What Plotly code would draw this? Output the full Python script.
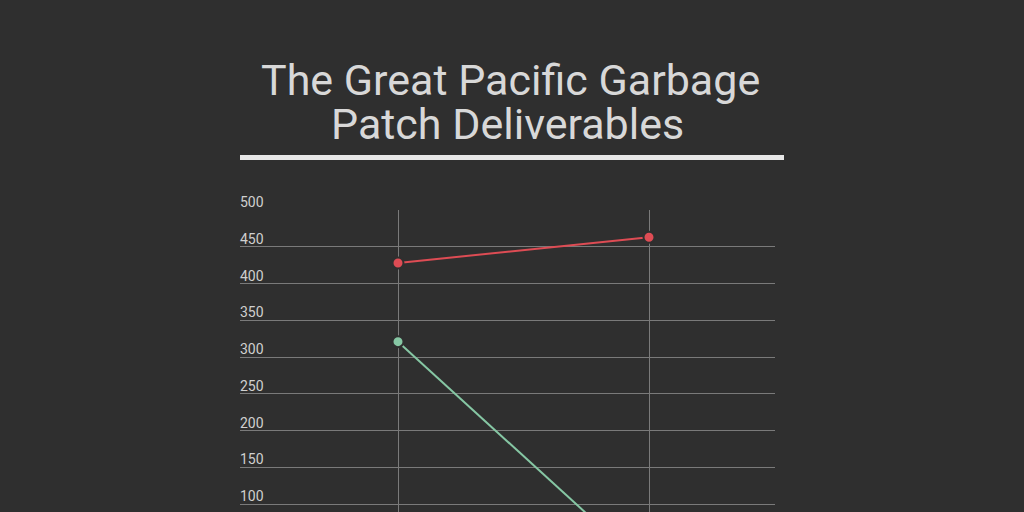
import plotly.graph_objects as go

# data
periods = ['Q1', 'Q2']
red_series = [428, 463]
green_series = [321, 10]
y_ticks = [100, 150, 200, 250, 300, 350, 400, 450, 500]
title_lines = ['The Great Pacific Garbage', 'Patch Deliverables']

BG = '#2f2f2f'
GRID = '#7a7a7a'
W, H = 1024, 512
M_TOP = 210


def paper_y(px):
    # pixel row from the top -> paper fraction of the plot area
    return (H - px) / (H - M_TOP)


fig = go.Figure()

fig.add_trace(go.Scatter(
    x=periods, y=red_series, mode='lines+markers', name='Red',
    line=dict(color='#de4c54', width=2),
    marker=dict(size=11, color='#de4c54', line=dict(color=BG, width=2)),
))
fig.add_trace(go.Scatter(
    x=periods, y=green_series, mode='lines+markers', name='Green',
    line=dict(color='#86c7a4', width=2),
    marker=dict(size=11, color='#86c7a4', line=dict(color=BG, width=2)),
))

fig.update_layout(
    width=W, height=H,
    paper_bgcolor=BG, plot_bgcolor=BG,
    font=dict(family='Roboto, sans-serif', color='#d6d6d6'),
    margin=dict(l=240, r=249, t=M_TOP, b=0),
    showlegend=False,
)

fig.update_xaxes(
    type='category', range=[-0.6295, 1.502],
    showgrid=True, gridcolor=GRID, gridwidth=1,
    showticklabels=False, zeroline=False, showline=False, ticks='',
)
fig.update_yaxes(
    range=[89.5, 500], tickvals=y_ticks,
    showgrid=True, gridcolor=GRID, gridwidth=1,
    zeroline=False, showline=False, ticks='',
    showticklabels=False,
)

# tick labels sit above their gridlines, left aligned
for v in y_ticks:
    fig.add_annotation(text=str(v), x=0, y=v, xref='paper', yref='y',
                       xanchor='left', yanchor='bottom', showarrow=False,
                       xshift=-2, yshift=-2,
                       font=dict(size=14, color='#d0d0d0'))

# title, two lines (tighter than plotly's <br> spacing), and the bar under it
fig.add_annotation(text=title_lines[0], x=0.5, y=paper_y(80), xref='paper', yref='paper',
                   xanchor='center', yanchor='middle', showarrow=False, xshift=3,
                   font=dict(size=43, color='#d8d8d8'))
fig.add_annotation(text=title_lines[1], x=0.5, y=paper_y(124), xref='paper', yref='paper',
                   xanchor='center', yanchor='middle', showarrow=False,
                   font=dict(size=43, color='#d8d8d8'))
fig.add_shape(type='line', xref='paper', yref='paper', x0=0, x1=544 / 535,
              y0=paper_y(157.5), y1=paper_y(157.5),
              line=dict(color='#e8e8e8', width=5))

fig.write_html('out.html',
               config=dict(displayModeBar=False),
               post_script="document.body.style.margin='0';"
                           "document.body.style.background='#2f2f2f';")
